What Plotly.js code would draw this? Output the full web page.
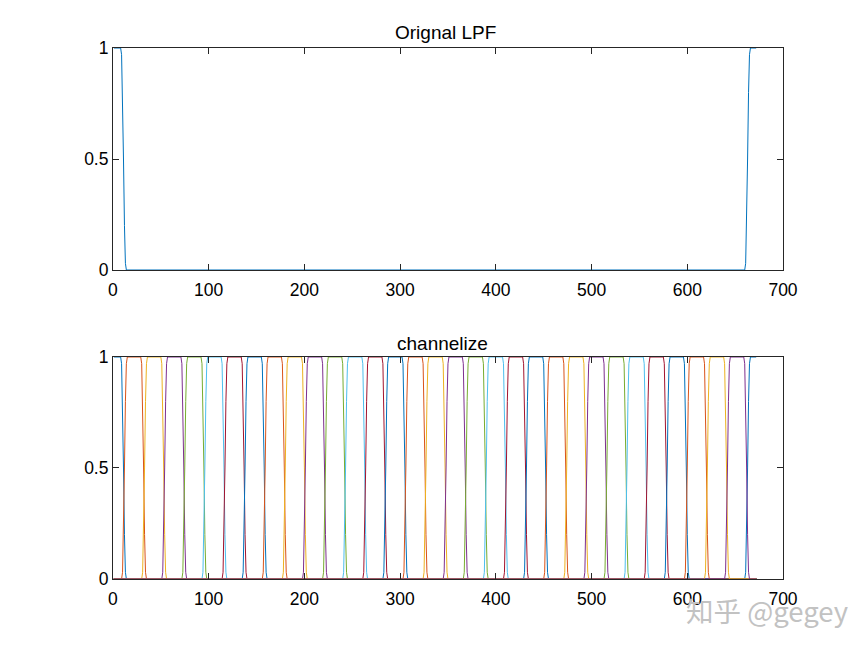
<!DOCTYPE html>
<html>
<head>
<meta charset="utf-8">
<script src="https://cdn.plot.ly/plotly-3.0.1.min.js"></script>
<style>html,body{margin:0;padding:0;background:#fff;}#chart{width:865px;height:649px;}</style>
</head>
<body>
<div id="chart"></div>
<script>
// Original LPF (sample index 1..672)
const lpfX = [1, 8, 9, 10, 11, 12, 13, 14, 660, 661, 662, 663, 664, 665, 666, 672];
const lpfY = [1, 1, 0.97, 0.8, 0.5, 0.2, 0.03, 0, 0, 0.03, 0.2, 0.5, 0.8, 0.97, 1, 1];

// Channelizer: 32 channels, centre sample of each passband
const channelCenters = [1, 22, 43, 64, 85, 106, 127, 148, 169, 190, 211, 232, 253, 274, 295, 316,
                        337, 358, 379, 400, 421, 442, 463, 484, 505, 526, 547, 568, 589, 610, 631, 652];
// band-edge profile (distance from centre -> gain), read from the transitions
const edgeOffsets = [7, 8, 9, 10, 11, 12, 13];
const edgeGains   = [1, 0.97, 0.8, 0.5, 0.2, 0.03, 0];
const nSamples = 672;

const xTicks = [0, 100, 200, 300, 400, 500, 600, 700];
const yTicks = [0, 0.5, 1];
const yTickText = ['0', '0.5', '1'];
const matlabColors = ['#0072BD', '#D95319', '#EDB120', '#7E2F8E', '#77AC30', '#4DBEEE', '#A2142F'];

const traces = [];
traces.push({x: lpfX, y: lpfY, type: 'scatter', mode: 'lines', xaxis: 'x', yaxis: 'y',
  line: {color: matlabColors[0], width: 1}, hoverinfo: 'none'});

channelCenters.forEach((c, k) => {
  let xs, ys;
  if (k === 0) { xs = lpfX; ys = lpfY; }
  else {
    xs = [1]; ys = [0];
    for (let i = edgeOffsets.length - 1; i >= 0; i--) { xs.push(c - edgeOffsets[i]); ys.push(edgeGains[i]); }
    for (let i = 0; i < edgeOffsets.length; i++) { xs.push(c + edgeOffsets[i]); ys.push(edgeGains[i]); }
    xs.push(nSamples); ys.push(0);
  }
  traces.push({x: xs, y: ys, type: 'scatter', mode: 'lines', xaxis: 'x2', yaxis: 'y2',
    line: {color: matlabColors[k % 7], width: 1}, hoverinfo: 'none'});
});

const fontFam = 'Liberation Sans, Arial, sans-serif';
const axX = {
  range: [0, 700], tickvals: xTicks, ticktext: xTicks.map(String), ticks: 'inside', ticklen: 6,
  tickcolor: '#262626', showline: true, linecolor: '#262626', linewidth: 1, mirror: 'ticks',
  showgrid: false, zeroline: false, ticklabelstandoff: 4,
  tickfont: {family: fontFam, size: 17.5, color: '#000'}
};
const axY = {
  range: [0, 1], tickvals: yTicks, ticktext: yTickText, ticks: 'inside', ticklen: 6,
  tickcolor: '#262626', showline: true, linecolor: '#262626', linewidth: 1, mirror: 'ticks',
  showgrid: false, zeroline: false, tickfont: {family: fontFam, size: 17.5, color: '#000'}
};

const layout = {
  width: 865, height: 649, margin: {l: 0, r: 0, t: 0, b: 0},
  paper_bgcolor: '#fff', plot_bgcolor: '#fff', showlegend: false,
  xaxis: Object.assign({}, axX, {domain: [0.1306, 0.9052], anchor: 'y'}),
  yaxis: Object.assign({}, axY, {domain: [0.5840, 0.9260], anchor: 'x'}),
  xaxis2: Object.assign({}, axX, {domain: [0.1306, 0.9052], anchor: 'y2'}),
  yaxis2: Object.assign({}, axY, {domain: [0.1079, 0.4499], anchor: 'x2'}),
  annotations: [
    {text: 'Orignal LPF', xref: 'paper', yref: 'paper', x: 0.5156, y: 0.9492,
     xanchor: 'center', yanchor: 'middle', showarrow: false, font: {family: fontFam, size: 19, color: '#000'}},
    {text: 'channelize', xref: 'paper', yref: 'paper', x: 0.5121, y: 0.4700,
     xanchor: 'center', yanchor: 'middle', showarrow: false, font: {family: fontFam, size: 19, color: '#000'}},
    {text: '知乎 @gegey', xref: 'paper', yref: 'paper', x: 0.8867, y: 0.0600, xanchor: 'center', yanchor: 'middle',
     showarrow: false, font: {family: 'Noto Sans CJK SC, sans-serif', size: 27.5, color: '#c2c2c2'}}
  ]
};

Plotly.newPlot('chart', traces, layout, {staticPlot: true});
</script>
</body>
</html>
